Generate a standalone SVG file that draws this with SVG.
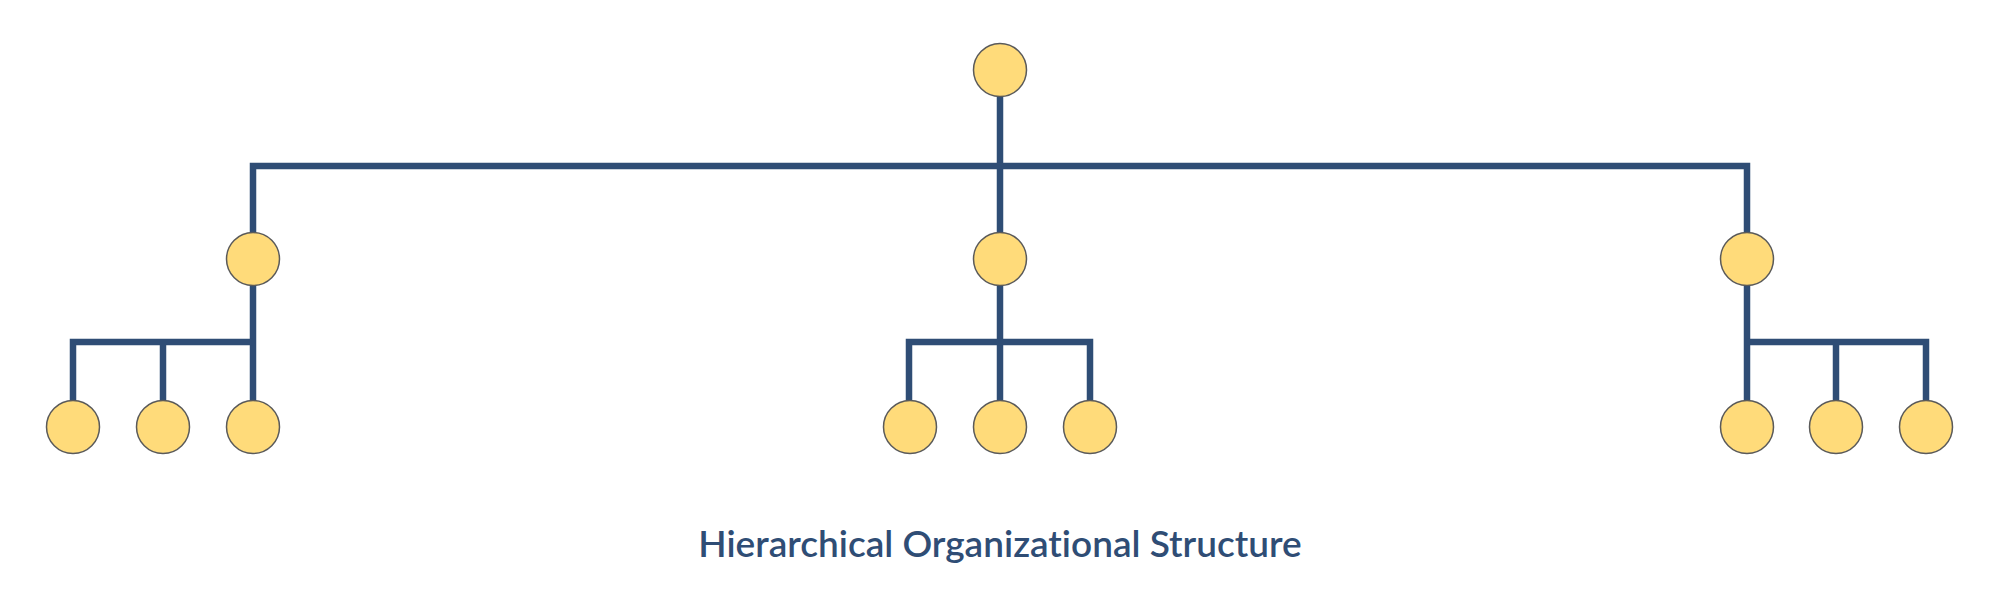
<svg xmlns="http://www.w3.org/2000/svg" width="2000" height="610" viewBox="0 0 2000 610">
<style>
.c{fill:#FFDB7A;stroke:#5a5a5a;stroke-width:1.5}
.l{fill:none;stroke:#2F4D75;stroke-width:6.5;stroke-linejoin:miter;stroke-linecap:butt}
.t{font-family:Lato,"Open Sans",sans-serif;font-size:37px;font-weight:600;fill:#2F4D75;font-variant-ligatures:none}
</style>
<rect width="2000" height="610" fill="#fff"/>
<g id="connectors">
<path class="l" d="M1000,96 V233"/>
<path class="l" d="M253,233 V166 H1747 V233"/>
<path class="l" d="M253,285 V401"/>
<path class="l" d="M73,401 V342 H253"/>
<path class="l" d="M163,342 V401"/>
<path class="l" d="M1000,285 V401"/>
<path class="l" d="M909,401 V342 H1090 V401"/>
<path class="l" d="M1747,285 V401"/>
<path class="l" d="M1747,342 H1926 V401"/>
<path class="l" d="M1836,342 V401"/>
</g>
<g id="root"><circle class="c" cx="1000" cy="70" r="26.5"/></g>
<g id="mgr-left"><circle class="c" cx="253" cy="259" r="26.5"/></g>
<g id="mgr-center"><circle class="c" cx="1000" cy="259" r="26.5"/></g>
<g id="mgr-right"><circle class="c" cx="1747" cy="259" r="26.5"/></g>
<g id="leaf-l1"><circle class="c" cx="73" cy="427" r="26.5"/></g>
<g id="leaf-l2"><circle class="c" cx="163" cy="427" r="26.5"/></g>
<g id="leaf-l3"><circle class="c" cx="253" cy="427" r="26.5"/></g>
<g id="leaf-c1"><circle class="c" cx="910" cy="427" r="26.5"/></g>
<g id="leaf-c2"><circle class="c" cx="1000" cy="427" r="26.5"/></g>
<g id="leaf-c3"><circle class="c" cx="1090" cy="427" r="26.5"/></g>
<g id="leaf-r1"><circle class="c" cx="1747" cy="427" r="26.5"/></g>
<g id="leaf-r2"><circle class="c" cx="1836" cy="427" r="26.5"/></g>
<g id="leaf-r3"><circle class="c" cx="1926" cy="427" r="26.5"/></g>
<g id="title"><text class="t" x="1000" y="557" text-anchor="middle">Hierarchical Organizational Structure</text></g>
</svg>
